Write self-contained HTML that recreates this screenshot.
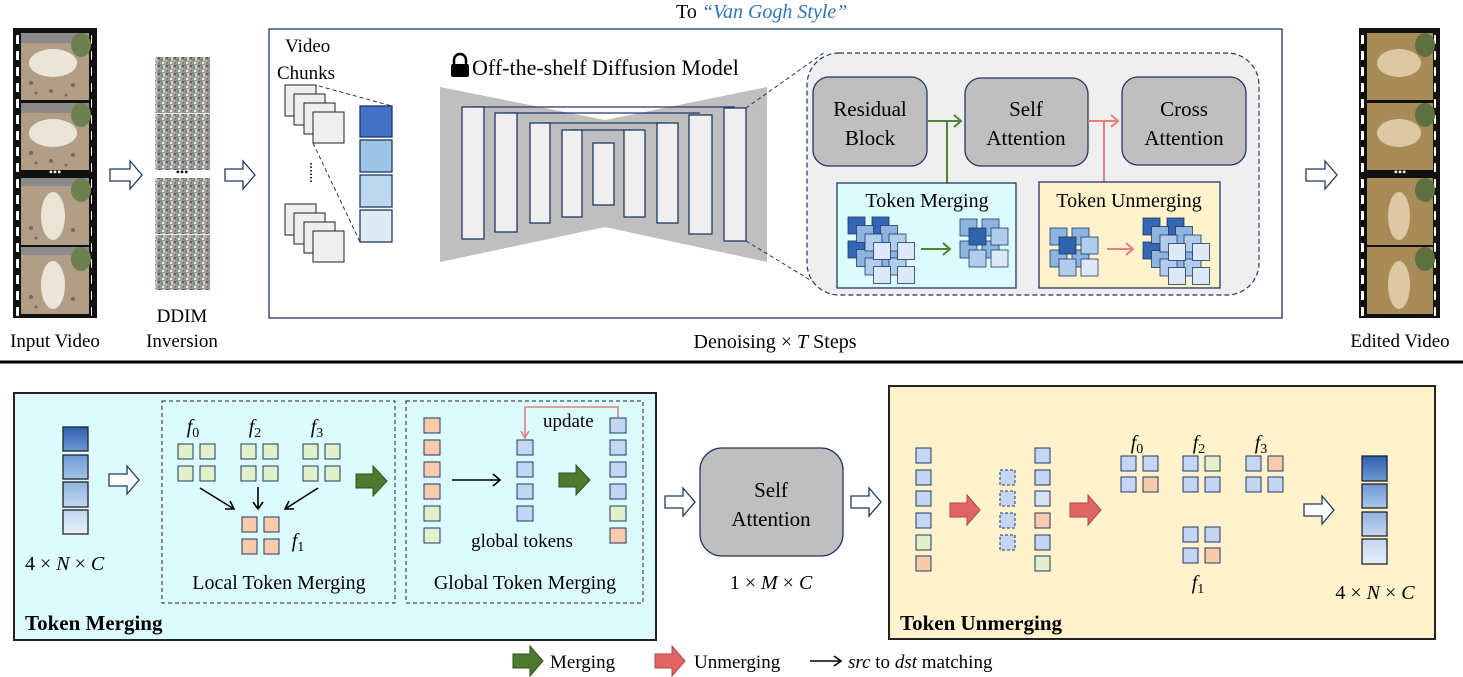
<!DOCTYPE html>
<html><head><meta charset="utf-8"><style>
html,body{margin:0;padding:0;background:#fff;}
svg{display:block;font-family:"Liberation Serif",serif;}
</style></head><body>
<svg width="1463" height="677" viewBox="0 0 1463 677" xmlns="http://www.w3.org/2000/svg">
<defs>
<pattern id="noise" width="8" height="8" patternUnits="userSpaceOnUse">
<rect width="8" height="8" fill="#9a9890"/>
<rect x="0" y="0" width="2" height="2" fill="#6f8fb0"/><rect x="3" y="1" width="2" height="2" fill="#d8c8b4"/>
<rect x="1" y="3" width="2" height="2" fill="#6d8a5a"/><rect x="5" y="4" width="2" height="2" fill="#c4a89a"/>
<rect x="2" y="6" width="2" height="2" fill="#e6e6e6"/><rect x="6" y="1" width="2" height="2" fill="#4e5a6a"/>
<rect x="4" y="6" width="2" height="2" fill="#8fb0c0"/><rect x="6" y="6" width="2" height="2" fill="#a07860"/>
<rect x="3" y="3" width="2" height="2" fill="#c8d0d8"/>
</pattern>
<pattern id="perf" width="8" height="16" patternUnits="userSpaceOnUse">
<rect x="0" y="3" width="4" height="9" rx="1" fill="#fff"/>
</pattern>
<g id="dogframe">
<rect width="68" height="67" fill="#b29d86"/>
<rect width="68" height="10" fill="#8c8a88"/>
<ellipse cx="60" cy="12" rx="10" ry="12" fill="#6d8050"/>
<ellipse cx="32" cy="30" rx="24" ry="14" fill="#ebe4d9"/>
<g fill="#7d6a55"><circle cx="10" cy="50" r="2"/><circle cx="30" cy="58" r="2"/><circle cx="52" cy="52" r="2"/><circle cx="45" cy="62" r="1.5"/><circle cx="15" cy="60" r="1.5"/></g>
</g>
<g id="dogframe2">
<rect width="68" height="67" fill="#b29d86"/>
<rect width="68" height="8" fill="#8c8a88"/>
<ellipse cx="60" cy="12" rx="10" ry="12" fill="#6d8050"/>
<ellipse cx="32" cy="38" rx="12" ry="24" fill="#ebe4d9"/>
<g fill="#7d6a55"><circle cx="10" cy="50" r="2"/><circle cx="52" cy="52" r="2"/><circle cx="15" cy="60" r="1.5"/></g>
</g>
<g id="vframe">
<rect width="66" height="67" fill="#a98b58"/>
<ellipse cx="58" cy="12" rx="10" ry="12" fill="#5e7040"/>
<ellipse cx="32" cy="30" rx="22" ry="14" fill="#dcc9a4"/>
</g>
<g id="vframe2">
<rect width="66" height="67" fill="#a98b58"/>
<ellipse cx="58" cy="12" rx="10" ry="12" fill="#5e7040"/>
<ellipse cx="32" cy="38" rx="11" ry="24" fill="#dcc9a4"/>
</g>
<g id="c4">
<g fill="#3565b5" stroke="#1f3864" stroke-width="0.8"><rect x="0" y="0" width="17" height="17"/><rect x="24" y="0" width="17" height="17"/><rect x="0" y="24" width="17" height="17"/><rect x="24" y="24" width="17" height="17"/></g>
<g fill="#8db3df" stroke="#1f3864" stroke-width="0.8"><rect x="8.5" y="8.5" width="17" height="17"/><rect x="32.5" y="8.5" width="17" height="17"/><rect x="8.5" y="32.5" width="17" height="17"/><rect x="32.5" y="32.5" width="17" height="17"/></g>
<g fill="#b0cdeb" stroke="#1f3864" stroke-width="0.8"><rect x="17" y="17" width="17" height="17"/><rect x="41" y="17" width="17" height="17"/><rect x="17" y="41" width="17" height="17"/><rect x="41" y="41" width="17" height="17"/></g>
<g fill="#dde9f7" stroke="#1f3864" stroke-width="0.8"><rect x="25.5" y="25.5" width="17" height="17"/><rect x="49.5" y="25.5" width="17" height="17"/><rect x="25.5" y="49.5" width="17" height="17"/><rect x="49.5" y="49.5" width="17" height="17"/></g>
</g>
<g id="c2">
<g fill="#8db3df" stroke="#1f3864" stroke-width="0.8"><rect x="0" y="0" width="17" height="17"/><rect x="22" y="0" width="17" height="17"/><rect x="0" y="22" width="17" height="17"/><rect x="22" y="22" width="17" height="17"/></g>
<g fill="#b0cdeb" stroke="#1f3864" stroke-width="0.8"><rect x="9" y="9" width="17" height="17" fill="#2e64ae"/><rect x="31" y="9" width="17" height="17"/><rect x="9" y="31" width="17" height="17"/><rect x="31" y="31" width="17" height="17" fill="#dde9f7"/></g>
</g>
</defs>

<!-- Input film -->
<rect x="13" y="28" width="84" height="290" fill="#111"/>
<rect x="15" y="30" width="4" height="286" fill="url(#perf)"/>
<rect x="91" y="30" width="4" height="286" fill="url(#perf)"/>
<use href="#dogframe" x="21" y="33"/>
<use href="#dogframe" x="21" y="103"/>
<use href="#dogframe2" x="21" y="178"/>
<use href="#dogframe2" x="21" y="247"/>
<text x="55" y="176" font-size="12" fill="#fff" text-anchor="middle">•••</text>
<text x="55" y="347" font-size="19" text-anchor="middle">Input Video</text>
<!-- arrows -->
<g fill="#fff" stroke="#1f3864" stroke-width="1.3">
<polygon points="110,169 130,169 130,161 142,175 130,189 130,181 110,181"/>
<polygon points="225,169 243,169 243,161 255,175 243,189 243,181 225,181"/>
<polygon points="401,168 419,168 419,160 431,174 419,188 419,180 401,180"/>
<polygon points="1306,169 1325,169 1325,161 1337,175 1325,189 1325,181 1306,181"/>
</g>
<!-- DDIM -->
<g fill="url(#noise)"><rect x="155" y="57" width="55" height="56"/><rect x="155" y="114" width="55" height="56"/><rect x="155" y="178" width="55" height="56"/><rect x="155" y="235" width="55" height="55"/></g>
<text x="182" y="176" font-size="12" text-anchor="middle">•••</text>
<text x="182" y="322" font-size="19" text-anchor="middle">DDIM</text>
<text x="182" y="347" font-size="19" text-anchor="middle">Inversion</text>

<!-- main box -->
<text x="676" y="18" font-size="20">To <tspan fill="#2e75b6" font-style="italic">“Van Gogh Style”</tspan></text>
<rect x="269" y="29" width="1013" height="289" fill="#fff" stroke="#1f3864" stroke-width="1.3"/>
<text x="775" y="348" font-size="20" text-anchor="middle">Denoising × <tspan font-style="italic">T</tspan> Steps</text>
<text x="285" y="52" font-size="19">Video</text>
<text x="277" y="79" font-size="19">Chunks</text>
<g fill="#efefef" stroke="#222" stroke-width="1">
<rect x="285" y="85" width="31" height="31"/><rect x="294" y="94" width="31" height="31"/><rect x="304" y="103" width="31" height="31"/><rect x="313" y="112" width="31" height="31"/>
<rect x="285" y="204" width="31" height="31"/><rect x="294" y="213" width="31" height="31"/><rect x="304" y="222" width="31" height="31"/><rect x="313" y="231" width="31" height="31"/>
</g>
<line x1="311" y1="163" x2="311" y2="183" stroke="#333" stroke-width="2" stroke-dasharray="1.5 2"/>
<line x1="319" y1="86" x2="392" y2="106" stroke="#333" stroke-dasharray="4 3"/>
<line x1="313" y1="143" x2="360" y2="242" stroke="#333" stroke-dasharray="4 3"/>
<g stroke="#1f3864" stroke-width="1.3">
<rect x="360" y="106" width="32" height="31" fill="#4472c4"/><rect x="360" y="140" width="32" height="32" fill="#9dc3e6"/>
<rect x="360" y="175" width="32" height="32" fill="#bdd7ee"/><rect x="360" y="210" width="32" height="32" fill="#deebf7"/>
</g>
<!-- lock -->
<path d="M454 65 v-5 a6 6 0 0 1 12 0 v5" fill="none" stroke="#000" stroke-width="2.5"/>
<rect x="451" y="64" width="18" height="13" rx="2" fill="#000"/>
<text x="472" y="75" font-size="22">Off-the-shelf Diffusion Model</text>
<polygon points="440,87 605,120 767,87 767,262 605,227 440,262" fill="#bfbfbf"/>
<g fill="none" stroke="#1f3864" stroke-width="1.2">
<line x1="473" y1="107" x2="735" y2="107"/><line x1="506" y1="113" x2="700" y2="113"/>
<line x1="540" y1="123" x2="667" y2="123"/><line x1="572" y1="130" x2="634" y2="130"/>
</g>
<g fill="#efefef" stroke="#1f3864" stroke-width="1.3">
<rect x="462" y="107" width="22" height="132"/><rect x="495" y="113" width="22" height="119"/>
<rect x="530" y="123" width="20" height="100"/><rect x="562" y="130" width="20" height="87"/>
<rect x="593" y="143" width="21" height="62"/><rect x="624" y="130" width="21" height="87"/>
<rect x="657" y="123" width="21" height="100"/><rect x="689" y="115" width="23" height="119"/>
<rect x="724" y="108" width="22" height="133"/>
</g>
<line x1="746" y1="108" x2="825" y2="52" stroke="#1f3864" stroke-dasharray="4 3"/>
<line x1="746" y1="241" x2="830" y2="292" stroke="#1f3864" stroke-dasharray="4 3"/>
<rect x="807" y="53" width="452" height="242" rx="32" fill="#efefef" stroke="#1f3864" stroke-width="1.2" stroke-dasharray="5 3"/>
<g fill="#bfbfbf" stroke="#1f3864" stroke-width="1.3">
<rect x="813" y="77" width="114" height="89" rx="16"/><rect x="965" y="78" width="123" height="88" rx="16"/><rect x="1122" y="77" width="124" height="88" rx="16"/>
</g>
<g font-size="21" text-anchor="middle">
<text x="870" y="116">Residual</text><text x="870" y="145">Block</text>
<text x="1026" y="116">Self</text><text x="1026" y="145">Attention</text>
<text x="1184" y="116">Cross</text><text x="1184" y="145">Attention</text>
</g>
<g stroke="#548235" stroke-width="2" fill="none"><line x1="927" y1="121" x2="961" y2="121"/><line x1="947" y1="183" x2="947" y2="121"/><polyline points="954,115 961,121 954,127"/></g>
<g stroke="#e57f7f" stroke-width="2" fill="none"><line x1="1088" y1="121" x2="1118" y2="121"/><line x1="1104" y1="182" x2="1104" y2="121"/><polyline points="1111,115 1118,121 1111,127"/></g>
<rect x="837" y="183" width="179" height="105" fill="#dcfbfd" stroke="#1f3864" stroke-width="1.3"/>
<rect x="1039" y="182" width="181" height="106" fill="#fff2cc" stroke="#1f3864" stroke-width="1.3"/>
<text x="927" y="207" font-size="20" text-anchor="middle">Token Merging</text>
<text x="1129" y="207" font-size="20" text-anchor="middle">Token Unmerging</text>
<use href="#c4" x="848" y="217"/>
<use href="#c2" x="960" y="219"/>
<use href="#c2" x="1050" y="228"/>
<use href="#c4" x="1143" y="218"/>
<g stroke="#548235" stroke-width="2" fill="none"><line x1="921" y1="249" x2="950" y2="249"/><polyline points="943,243 950,249 943,255"/></g>
<g stroke="#e57f7f" stroke-width="2" fill="none"><line x1="1107" y1="249" x2="1133" y2="249"/><polyline points="1126,243 1133,249 1126,255"/></g>

<!-- edited film -->
<rect x="1359" y="28" width="81" height="290" fill="#111"/>
<rect x="1361" y="30" width="4" height="286" fill="url(#perf)"/>
<rect x="1434" y="30" width="4" height="286" fill="url(#perf)"/>
<use href="#vframe" x="1367" y="33"/>
<use href="#vframe" x="1367" y="103"/>
<use href="#vframe2" x="1367" y="178"/>
<use href="#vframe2" x="1367" y="247"/>
<text x="1400" y="176" font-size="12" fill="#fff" text-anchor="middle">•••</text>
<text x="1400" y="347" font-size="19" text-anchor="middle">Edited Video</text>

<line x1="0" y1="362" x2="1463" y2="362" stroke="#000" stroke-width="3"/>

<!-- Token merging bottom -->
<rect x="14" y="393" width="642" height="247" fill="#dcfbfd" stroke="#222" stroke-width="2"/>
<defs><linearGradient id="g1" x1="0" y1="0" x2="0" y2="1"><stop offset="0" stop-color="#2f5fb0"/><stop offset="1" stop-color="#6f98d2"/></linearGradient>
<linearGradient id="g2" x1="0" y1="0" x2="0" y2="1"><stop offset="0" stop-color="#6f98d2"/><stop offset="1" stop-color="#a8c5e8"/></linearGradient>
<linearGradient id="g3" x1="0" y1="0" x2="0" y2="1"><stop offset="0" stop-color="#8fb2df"/><stop offset="1" stop-color="#c3d7ef"/></linearGradient>
<linearGradient id="g4" x1="0" y1="0" x2="0" y2="1"><stop offset="0" stop-color="#c3d7ef"/><stop offset="1" stop-color="#e6eef8"/></linearGradient></defs>
<g stroke="#222" stroke-width="1.3">
<rect x="63" y="427" width="25" height="24" fill="url(#g1)"/><rect x="63" y="455" width="25" height="24" fill="url(#g2)"/>
<rect x="63" y="482" width="25" height="25" fill="url(#g3)"/><rect x="63" y="510" width="25" height="24" fill="url(#g4)"/>
</g>
<text x="25" y="570" font-size="20">4 × <tspan font-style="italic">N</tspan> × <tspan font-style="italic">C</tspan></text>
<polygon points="109,474 127,474 127,466 139,480 127,494 127,486 109,486" fill="#fff" stroke="#1f3864" stroke-width="1.3"/>
<rect x="162" y="401" width="233" height="202" fill="none" stroke="#222" stroke-dasharray="4 3"/>
<rect x="406" y="401" width="237" height="202" fill="none" stroke="#222" stroke-dasharray="4 3"/>
<g font-size="20" font-style="italic" text-anchor="middle">
<text x="193" y="433">f<tspan font-size="14" font-style="normal" dy="4">0</tspan></text>
<text x="255" y="433">f<tspan font-size="14" font-style="normal" dy="4">2</tspan></text>
<text x="317" y="433">f<tspan font-size="14" font-style="normal" dy="4">3</tspan></text>
<text x="298" y="547">f<tspan font-size="14" font-style="normal" dy="4">1</tspan></text>
</g>
<g fill="#e2f0cb" stroke="#1f3864" stroke-width="1">
<rect x="178" y="444" width="15" height="15"/><rect x="200" y="444" width="15" height="15"/><rect x="178" y="466" width="15" height="15"/><rect x="200" y="466" width="15" height="15"/>
<rect x="241" y="444" width="15" height="15"/><rect x="263" y="444" width="15" height="15"/><rect x="241" y="466" width="15" height="15"/><rect x="263" y="466" width="15" height="15"/>
<rect x="303" y="444" width="15" height="15"/><rect x="325" y="444" width="15" height="15"/><rect x="303" y="466" width="15" height="15"/><rect x="325" y="466" width="15" height="15"/>
</g>
<g fill="#f8cbad" stroke="#1f3864" stroke-width="1">
<rect x="242" y="517" width="15" height="15"/><rect x="264" y="517" width="15" height="15"/><rect x="242" y="539" width="15" height="15"/><rect x="264" y="539" width="15" height="15"/>
</g>
<g stroke="#000" stroke-width="1.6" fill="none">
<line x1="200" y1="488" x2="234" y2="509"/><polyline points="225,509 234,509 230,501"/>
<line x1="258" y1="487" x2="258" y2="509"/><polyline points="253,502 258,509 263,502"/>
<line x1="318" y1="488" x2="285" y2="509"/><polyline points="289,501 285,509 294,509"/>
<line x1="452" y1="480" x2="500" y2="480"/><polyline points="493,474 500,480 493,486"/>
</g>
<g fill="#4e7a2f" stroke="#2f4f1a" stroke-width="1">
<polygon points="356,474 373,474 373,466 387,481 373,496 373,488 356,488"/>
<polygon points="559,473 576,473 576,465 590,480 576,495 576,487 559,487"/>
</g>
<text x="279" y="589" font-size="20" text-anchor="middle">Local Token Merging</text>
<text x="525" y="589" font-size="20" text-anchor="middle">Global Token Merging</text>
<g stroke="#1f3864" stroke-width="1">
<rect x="424" y="418" width="16" height="15" fill="#f8cbad"/><rect x="424" y="440" width="16" height="15" fill="#f8cbad"/><rect x="424" y="462" width="16" height="15" fill="#f8cbad"/><rect x="424" y="484" width="16" height="15" fill="#f8cbad"/><rect x="424" y="506" width="16" height="15" fill="#e2f0cb"/><rect x="424" y="528" width="16" height="15" fill="#e2f0cb"/>
<rect x="517" y="440" width="16" height="15" fill="#c5d6f5"/><rect x="517" y="462" width="16" height="15" fill="#c5d6f5"/><rect x="517" y="484" width="16" height="15" fill="#c5d6f5"/><rect x="517" y="506" width="16" height="15" fill="#c5d6f5"/>
<rect x="610" y="418" width="16" height="15" fill="#c5d6f5"/><rect x="610" y="440" width="16" height="15" fill="#c5d6f5"/><rect x="610" y="462" width="16" height="15" fill="#c5d6f5"/><rect x="610" y="484" width="16" height="15" fill="#c5d6f5"/><rect x="610" y="506" width="16" height="15" fill="#e2f0cb"/><rect x="610" y="528" width="16" height="15" fill="#f8cbad"/>
</g>
<g stroke="#e57f7f" stroke-width="1.6" fill="none"><polyline points="618,418 618,407 525,407 525,437"/><polyline points="521,431 525,438 529,431"/></g>
<text x="543" y="427" font-size="19">update</text>
<text x="522" y="547" font-size="19" text-anchor="middle">global tokens</text>
<text x="25" y="630" font-size="21" font-weight="bold">Token Merging</text>

<polygon points="665,496 683,496 683,488 695,502 683,516 683,508 665,508" fill="#fff" stroke="#1f3864" stroke-width="1.3"/>
<rect x="700" y="448" width="143" height="108" rx="22" fill="#bfbfbf" stroke="#1f3864" stroke-width="1.3"/>
<text x="771" y="497" font-size="21" text-anchor="middle">Self</text>
<text x="771" y="526" font-size="21" text-anchor="middle">Attention</text>
<text x="771" y="589" font-size="20" text-anchor="middle">1 × <tspan font-style="italic">M</tspan> × <tspan font-style="italic">C</tspan></text>
<polygon points="851,496 869,496 869,488 881,502 869,516 869,508 851,508" fill="#fff" stroke="#1f3864" stroke-width="1.3"/>

<!-- Token unmerging -->
<rect x="889" y="386" width="546" height="253" fill="#fff2cc" stroke="#222" stroke-width="2"/>
<g stroke="#1f3864" stroke-width="1">
<rect x="916" y="448" width="15" height="15" fill="#c5d6f5"/><rect x="916" y="470" width="15" height="15" fill="#c5d6f5"/><rect x="916" y="491" width="15" height="15" fill="#c5d6f5"/><rect x="916" y="513" width="15" height="15" fill="#c5d6f5"/><rect x="916" y="535" width="15" height="15" fill="#e2f0cb"/><rect x="916" y="556" width="15" height="15" fill="#f8cbad"/>
<rect x="1035" y="448" width="15" height="15" fill="#c5d6f5"/><rect x="1035" y="470" width="15" height="15" fill="#c5d6f5"/><rect x="1035" y="491" width="15" height="15" fill="#d7e0ee"/><rect x="1035" y="513" width="15" height="15" fill="#f8cbad"/><rect x="1035" y="535" width="15" height="15" fill="#c5d6f5"/><rect x="1035" y="556" width="15" height="15" fill="#e2f0cb"/>
</g>
<g stroke="#1f3864" stroke-width="1" stroke-dasharray="3 2" fill="#c5d6f5">
<rect x="1000" y="470" width="15" height="15"/><rect x="1000" y="491" width="15" height="15"/><rect x="1000" y="513" width="15" height="15"/><rect x="1000" y="535" width="15" height="15"/>
</g>
<g fill="#e06666" stroke="#b04545" stroke-width="1">
<polygon points="950,503 967,503 967,495 980,510 967,525 967,517 950,517"/>
<polygon points="1070,503 1088,503 1088,495 1101,510 1088,525 1088,517 1070,517"/>
</g>
<g font-size="20" font-style="italic" text-anchor="middle">
<text x="1137" y="449">f<tspan font-size="14" font-style="normal" dy="4">0</tspan></text>
<text x="1199" y="449">f<tspan font-size="14" font-style="normal" dy="4">2</tspan></text>
<text x="1261" y="449">f<tspan font-size="14" font-style="normal" dy="4">3</tspan></text>
<text x="1198" y="589">f<tspan font-size="14" font-style="normal" dy="4">1</tspan></text>
</g>
<g stroke="#1f3864" stroke-width="1" fill="#c5d6f5">
<rect x="1121" y="456" width="15" height="15"/><rect x="1143" y="456" width="15" height="15"/><rect x="1121" y="477" width="15" height="15"/><rect x="1143" y="477" width="15" height="15" fill="#f8cbad"/>
<rect x="1183" y="456" width="15" height="15"/><rect x="1205" y="456" width="15" height="15" fill="#e2f0cb"/><rect x="1183" y="477" width="15" height="15"/><rect x="1205" y="477" width="15" height="15"/>
<rect x="1246" y="456" width="15" height="15"/><rect x="1268" y="456" width="15" height="15" fill="#f8cbad"/><rect x="1246" y="477" width="15" height="15"/><rect x="1268" y="477" width="15" height="15"/>
<rect x="1183" y="527" width="15" height="15"/><rect x="1205" y="527" width="15" height="15"/><rect x="1183" y="548" width="15" height="15"/><rect x="1205" y="548" width="15" height="15" fill="#f8cbad"/>
</g>
<polygon points="1304,504 1322,504 1322,496 1334,510 1322,524 1322,516 1304,516" fill="#fff" stroke="#1f3864" stroke-width="1.3"/>
<g stroke="#222" stroke-width="1.3">
<rect x="1362" y="456" width="25" height="25" fill="url(#g1)"/><rect x="1362" y="484" width="25" height="24" fill="url(#g2)"/>
<rect x="1362" y="512" width="25" height="24" fill="url(#g3)"/><rect x="1362" y="539" width="25" height="25" fill="url(#g4)"/>
</g>
<text x="1375" y="599" font-size="20" text-anchor="middle">4 × <tspan font-style="italic">N</tspan> × <tspan font-style="italic">C</tspan></text>
<text x="900" y="630" font-size="21" font-weight="bold">Token Unmerging</text>

<!-- legend -->
<polygon points="513,654 530,654 530,646 543,661 530,676 530,668 513,668" fill="#4e7a2f" stroke="#2f4f1a"/>
<text x="550" y="668" font-size="19">Merging</text>
<polygon points="655,654 672,654 672,646 685,661 672,676 672,668 655,668" fill="#e06666" stroke="#b04545"/>
<text x="694" y="668" font-size="19">Unmerging</text>
<g stroke="#000" stroke-width="1.6" fill="none"><line x1="810" y1="661" x2="840" y2="661"/><polyline points="834,656 841,661 834,666"/></g>
<text x="848" y="668" font-size="19"><tspan font-style="italic">src</tspan> to <tspan font-style="italic">dst</tspan> matching</text>
</svg>
</body></html>
